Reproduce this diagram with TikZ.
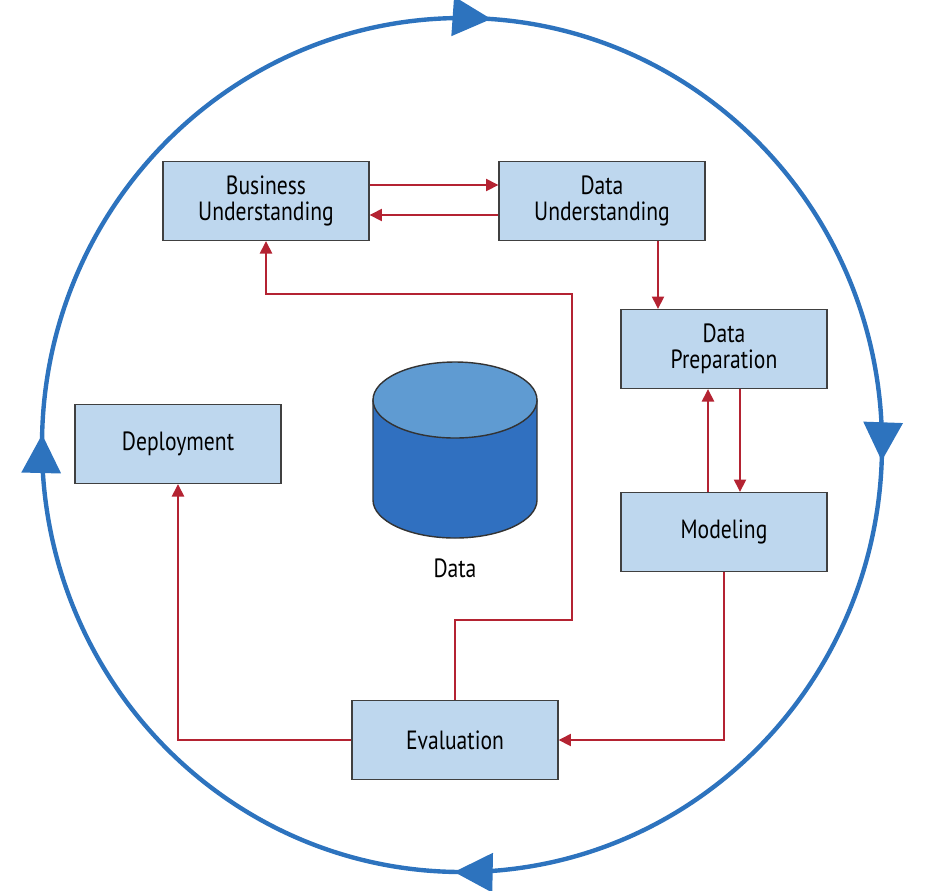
\documentclass[tikz,border=0pt]{standalone}
\usepackage{fontspec}
\setmainfont{PT Sans}[FakeStretch=0.82]
\usetikzlibrary{arrows.meta, positioning, calc, decorations.markings}
\definecolor{ring}{RGB}{45, 115, 190}
\definecolor{flow}{RGB}{180, 35, 50}
\definecolor{boxfill}{RGB}{190, 215, 238}
\definecolor{cyltop}{RGB}{95, 155, 210}
\definecolor{cylbody}{RGB}{48, 112, 192}
\tikzstyle{phase} = [rectangle, minimum width=4.12cm, minimum height=1.58cm, text centered, align=center, draw=black!75, thick, fill=boxfill, font=\fontsize{15}{15}\selectfont]
\tikzstyle{arrow} = [flow, thick, -{Triangle[length=7pt, width=7pt]}]

\begin{document}
\begin{tikzpicture}[x=0.02cm, y=-0.02cm]
    \useasboundingbox (0,0) rectangle (925,890);
    % outer cycle
    \draw[ring, line width=2.5pt,
        decoration={markings,
            mark=at position 0.006 with {\arrow{Triangle[length=22pt, width=22pt]}},
            mark=at position 0.253 with {\arrow{Triangle[length=22pt, width=22pt]}},
            mark=at position 0.504 with {\arrow{Triangle[length=22pt, width=22pt]}},
            mark=at position 0.761 with {\arrow{Triangle[length=22pt, width=22pt]}}},
        postaction={decorate}]
        (462,445) ellipse [x radius=420, y radius=427];

    % phases
    \node[phase] (bu) at (266,201) {Business\\Understanding};
    \node[phase] (du) at (602,201) {Data\\Understanding};
    \node[phase] (dp) at (724,349) {Data\\Preparation};
    \node[phase] (mo) at (724,532) {Modeling};
    \node[phase] (ev) at (455,740) {Evaluation};
    \node[phase] (de) at (178,444) {Deployment};

    % data store
    \fill[cylbody, draw=black!80, thick] (373,400) -- (373,500) arc[start angle=180, end angle=0, x radius=82, y radius=38] -- (537,400) -- cycle;
    \draw[fill=cyltop, draw=black!80, thick] (455,400) ellipse [x radius=82, y radius=38];
    \node[font=\fontsize{15}{15}\selectfont] (data) at (455,568) {Data};

    % Arrows
    \draw[arrow] ($(bu.east)+(0,-16)$) -- ($(du.west)+(0,-16)$);
    \draw[arrow] ($(du.west)+(0,14)$) -- ($(bu.east)+(0,14)$);
    \draw[arrow] (du.south -| 658,0) -- (dp.north -| 658,0);
    \draw[arrow] (dp.south -| 740,0) -- (mo.north -| 740,0);
    \draw[arrow] (mo.north -| 708,0) -- (dp.south -| 708,0);
    \draw[arrow] (mo.south) |- (ev.east);
    \draw[arrow] (ev.north) -- (455,620) -- (572,620) -- (572,294) -| (bu.south);
    \draw[arrow] (ev.west) -| (de.south);
\end{tikzpicture}
\end{document}
